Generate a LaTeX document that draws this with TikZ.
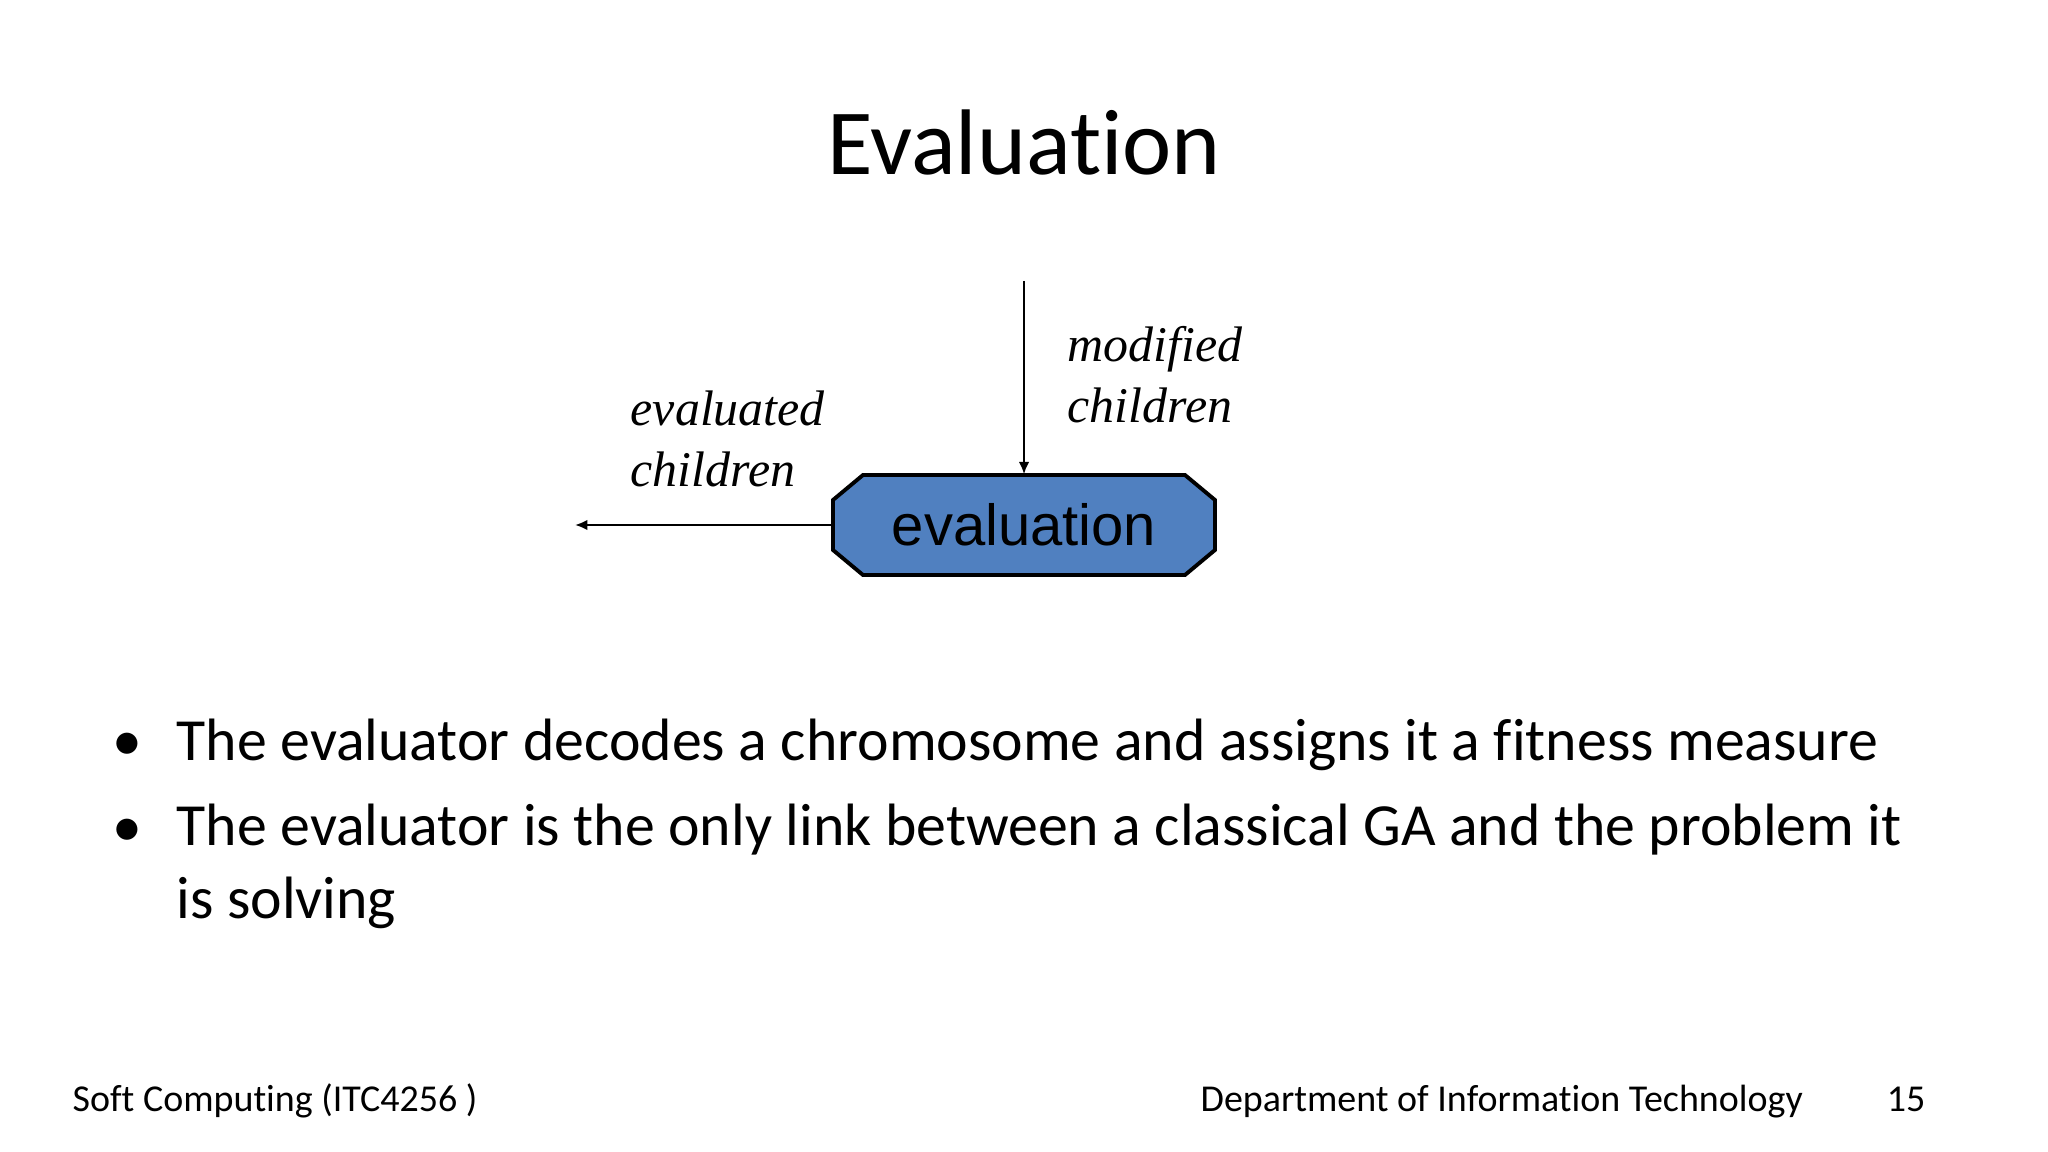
\documentclass[tikz,border=0pt]{standalone}
\usepackage{fontspec}
\usepackage{tikz}
\usetikzlibrary{arrows.meta}
\usetikzlibrary{positioning}
\setmainfont{Carlito}[Ligatures = NoCommon]
\newfontfamily\labelfont{Liberation Serif}
\newfontfamily\boxfont{Liberation Sans}
\definecolor{boxblue}{RGB}{80,128,192}
\tikzset{arr/.style = {-{Latex[length=3.5pt, width=3pt]}, line width = 0.6pt}}
\tikzset{lbl/.style = {anchor = base west, inner sep = 0, align = left, font = \labelfont\itshape\fontsize{14.2}{17.6}\selectfont}}
\tikzset{body/.style = {anchor = base west, inner sep = 0, align = left, font = \fontsize{17}{20.5}\selectfont}}
\tikzset{foot/.style = {inner sep = 0, font = \fontsize{10.8}{13}\selectfont}}

\begin{document}
\begin{tikzpicture}[x = 0.01cm, y = -0.01cm]
      \useasboundingbox (0, 0) rectangle (2048, 1152);

      \node [anchor = base, inner sep = 0, font = \fontsize{26.5}{32}\selectfont] (title) at (1024, 175) {Evaluation};

      \draw [line width = 1.1pt, fill = boxblue, line join = miter]
        (863, 475) -- (1185, 475) -- (1215, 500) -- (1215, 550) -- (1185, 575)
        -- (863, 575) -- (833, 550) -- (833, 500) -- cycle;
      \node [minimum width = 3.82cm, minimum height = 1.0cm, inner sep = 0,
        font = \boxfont\fontsize{16.5}{19}\selectfont] (eval) at (1024, 525) {evaluation};

      \coordinate (in) at (1024, 281);
      \coordinate (out) at (575, 525);
      \draw [arr] (in) -- (eval.north);
      \draw [arr] (eval.west) -- (out);

      \node [lbl] (modified) at (1067, 423) {modified\\children};
      \node [lbl] (evaluated) at (630, 487) {evaluated\\children};

      \foreach \y/\n in {760/1, 846/2} {
        \node [anchor = base, inner sep = 0, font = \fontsize{17}{20.5}\selectfont] (dot\n) at (127, \y) {•};
      }
      \node [body] (point1) at (176, 760) {The evaluator decodes a chromosome and assigns it a fitness measure};
      \node [body] (point2) at (176, 918) {The evaluator is the only link between a classical GA and the problem it\\is solving};

      \node [foot, anchor = base west] (course) at (72, 1111) {Soft Computing (ITC4256 )};
      \node [foot, anchor = base west] (dept) at (1200, 1111) {Department of Information Technology};
      \node [foot, anchor = base east] (page) at (1926, 1111) {15};
    \end{tikzpicture}
\end{document}
